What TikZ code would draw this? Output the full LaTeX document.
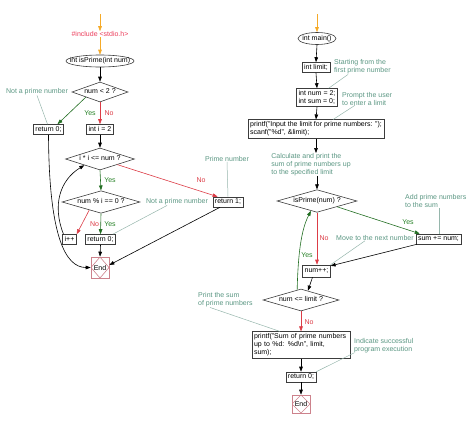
\documentclass[tikz,border=0pt]{standalone}
\usepackage{fontspec}
\setmainfont{Liberation Sans}
\usetikzlibrary{shapes.geometric,arrows.meta,calc}
\definecolor{boxc}{RGB}{60,60,60}
\definecolor{cmtc}{RGB}{90,150,130}
\definecolor{notec}{RGB}{150,182,172}
\definecolor{yesc}{RGB}{40,130,40}
\definecolor{noc}{RGB}{220,60,70}
\definecolor{orangec}{RGB}{245,170,40}
\definecolor{inclc}{RGB}{235,60,90}
\definecolor{endc}{RGB}{205,130,140}
\begin{document}
\begin{tikzpicture}[x=1pt, y=-1pt, font=\fontsize{7}{8}\selectfont,
    every node/.style={inner sep=0pt},
    box/.style={draw=boxc, line width=0.6pt, inner xsep=2pt, inner ysep=1.6pt, text height=5.3pt, text depth=1.5pt},
    mbox/.style={draw=boxc, line width=0.6pt, inner xsep=2pt, inner ysep=2pt, align=left},
    dec/.style={diamond, draw=boxc, line width=0.6pt, aspect=3, inner sep=0pt, text height=5.3pt, text depth=1.5pt},
    term/.style={ellipse, draw=boxc, line width=0.6pt, inner xsep=-8pt, inner ysep=0pt, minimum height=12pt, text height=5.3pt, text depth=1.5pt},
    endbox/.style={draw=endc, line width=0.6pt, minimum width=18pt, minimum height=#1,
        path picture={\draw[endc, line width=0.6pt] (path picture bounding box.north) -- (path picture bounding box.east)
            -- (path picture bounding box.south) -- (path picture bounding box.west) -- cycle;}},
    cmt/.style={text=cmtc, align=left},
    inc/.style={text=inclc},
    yeslbl/.style={text=yesc},
    nolbl/.style={text=noc},
    flow/.style={draw=black, line width=0.6pt, -{Triangle[length=5pt,width=3.6pt]}},
    yesline/.style={flow, draw=yesc!85!black},
    noline/.style={flow, draw=noc},
    startline/.style={flow, draw=orangec},
    note/.style={draw=notec, line width=0.5pt}]
\useasboundingbox (0,0) rectangle (474,421);

% isPrime
\coordinate (lstart) at (100,14);
\node[inc] (incl) at (100,34) {\#include <stdio.h>};
\node[term, minimum width=68pt] (isprime) at (100,61) {int isPrime(int num)};
\node[dec, minimum width=56pt, minimum height=20pt] (lt2) at (100,92) {num < 2 ?};
\node[box] (ret0a) at (48.5,129.5) {return 0;};
\node[box] (inti) at (100,129.5) {int i = 2};
\node[dec, minimum width=69pt, minimum height=22pt] (sq) at (100,159) {i * i <= num ?};
\node[dec, minimum width=78pt, minimum height=22pt] (mod) at (101,202) {num \% i == 0 ?};
\node[box] (ipp) at (69.5,239.5) {i++};
\node[box] (ret0b) at (100.5,239.5) {return 0;};
\node[box] (ret1) at (228,202) {return 1;};
\node[endbox=21pt] (endl) at (100,267.5) {End};

\node[cmt] (cnp1) at (37,92) {Not a prime number};
\node[cmt] (cpn) at (227,159) {Prime number};
\node[cmt] (cnp2) at (177,202) {Not a prime number};

\node[yeslbl] (y1) at (90,113) {Yes};
\node[nolbl] (n1) at (109,113) {No};
\node[yeslbl] (y2) at (110,180) {Yes};
\node[nolbl] (n2) at (201,180) {No};
\node[nolbl] (n3) at (94.5,224) {No};
\node[yeslbl] (y3) at (110,224) {Yes};

\draw[startline] (lstart) -- (incl.north);
\draw[startline] (incl.south) -- (isprime.north);
\draw[flow] (isprime.south) -- (lt2.north);
\draw[yesline] (lt2.south west) -- ([xshift=9pt]ret0a.north);
\draw[noline] (lt2.south) -- (inti.north);
\draw[flow] (inti.south) -- (sq.north);
\draw[yesline] (sq.south) -- (mod.north);
\draw[noline] (sq.south east) -- ([xshift=5pt]ret1.north west);
\draw[noline] ($(mod.south)!0.3!(mod.west)$) -- (ipp.north east);
\draw[yesline] (mod.south) -- (ret0b.north);
\draw[flow] ([xshift=-6pt]ipp.north) .. controls (52,205) and (60,180) .. ($(sq.south)!0.45!(sq.west)$);
\draw[flow] (ret0b.south) -- (endl.north);
\draw[flow] (ret0a.south) .. controls (49,235) and (65,267.5) .. (endl.west);
\draw[flow] ([xshift=-8pt]ret1.south) -- (endl.15);

\draw[note] (cnp1.south) -- ([xshift=-1pt]ret0a.north);
\draw[note] (cpn.south) -- (ret1.north);
\draw[note] ([xshift=-10pt]cnp2.south) -- ([xshift=-3pt]ret0b.north east);

% main
\coordinate (rstart) at (317,14);
\node[term, minimum width=38pt] (main) at (317,38.5) {int main()};
\node[box] (limit) at (316,67.5) {int limit;};
\node[mbox] (nums) at (317,97.5) {int num = 2;\\int sum = 0;};
\node[mbox] (printf1) at (316,129) {printf("Input the limit for prime numbers: ");\\scanf("\%d", \&limit);};
\node[cmt] (calc) at (311,164.5) {Calculate and print the\\sum of prime numbers up\\to the specified limit};
\node[dec, minimum width=80pt, minimum height=22pt] (isp) at (317,201) {isPrime(num) ?};
\node[box] (sum) at (438.5,239) {sum += num;};
\node[box, minimum height=12pt] (numpp) at (316.5,271) {num++;};
\node[dec, minimum width=76pt, minimum height=22pt] (le) at (301,300) {num <= limit ?};
\node[mbox, text width=94pt] (printf2) at (301,345) {printf("Sum of prime numbers\\up to \%d: \%d\textbackslash n", limit,\\sum);};
\node[box] (ret0c) at (301,377) {return 0;};
\node[endbox=18pt] (endr) at (301,404) {End};

\node[cmt, anchor=west] (cstart) at (334,67) {Starting from the\\first prime number};
\node[cmt, anchor=west] (cprompt) at (342,98.5) {Prompt the user\\to enter a limit};
\node[cmt, anchor=west] (cadd) at (405,201) {Add prime numbers\\to the sum};
\node[cmt, anchor=west] (cmove) at (336,238) {Move to the next number};
\node[cmt, anchor=west] (cprint) at (198,300) {Print the sum\\of prime numbers};
\node[cmt, anchor=west] (cok) at (354,345.5) {Indicate successful\\program execution};

\node[yeslbl] (y4) at (408,222) {Yes};
\node[nolbl] (n4) at (324,238) {No};
\node[yeslbl] (y5) at (307,255) {Yes};
\node[nolbl] (n5) at (309,322) {No};

\draw[startline] (rstart) -- (main.north);
\draw[flow] (main.south) -- (limit.north);
\draw[flow] (limit.south) -- (nums.north);
\draw[flow] (nums.south) -- (printf1.north);
\draw[flow] (printf1.south) -- (printf1.south |- calc.north);
\draw[flow] (calc.south -| isp.north) -- (isp.north);
\draw[yesline] (isp.south east) -- ([xshift=4pt]sum.north west);
\draw[noline] (isp.south) -- (numpp.north -| isp.south);
\draw[flow] ([xshift=1pt]sum.south west) -- (numpp.20);
\draw[flow] ([xshift=-4pt]numpp.south) -- ($(le.north)!0.18!(le.east)$);
\draw[yesline] ($(le.north)!0.1!(le.west)$) .. controls (298,255) and (301,230) .. ($(isp.south)!0.15!(isp.west)$);
\draw[noline] (le.south) -- (printf2.north);
\draw[flow] (printf2.south) -- (ret0c.north);
\draw[flow] (ret0c.south) -- (endr.north);

\draw[note] ([xshift=14pt]cstart.south west) -- ([xshift=-9pt]nums.north east);
\draw[note] ([xshift=13pt]cprompt.south west) -- ([xshift=-51pt]printf1.north east);
\draw[note] ([xshift=34pt]cadd.south west) -- ([xshift=0.5pt]sum.north);
\draw[note] ([xshift=29pt]cmove.south west) -- (numpp.north east);
\draw[note] ([xshift=12pt]cprint.south west) -- ([xshift=-21pt]printf2.north);
\draw[note] (cok.south west) -- (ret0c.north east);
\end{tikzpicture}
\end{document}
